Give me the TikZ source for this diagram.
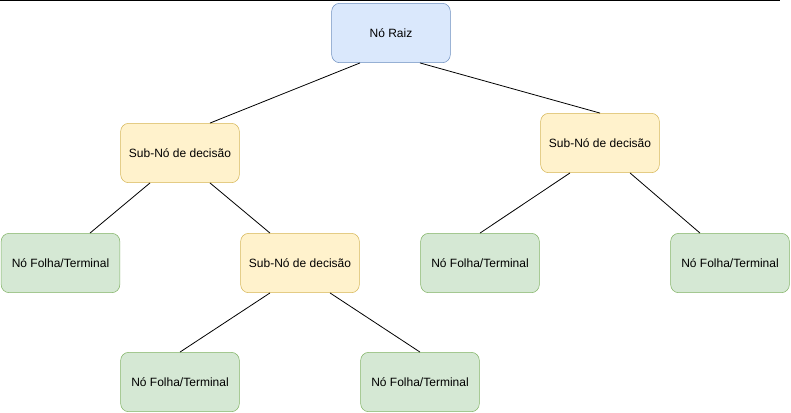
\documentclass[tikz,border=0pt]{standalone}
\usepackage{fontspec}
\setmainfont{Liberation Sans}
\usetikzlibrary{calc}
\definecolor{bfill}{HTML}{DAE8FC}\definecolor{bline}{HTML}{6C8EBF}
\definecolor{yfill}{HTML}{FFF2CC}\definecolor{yline}{HTML}{D6B656}
\definecolor{gfill}{HTML}{D5E8D4}\definecolor{gline}{HTML}{82B366}
\begin{document}
\begin{tikzpicture}[x=0.75pt,y=-0.75pt,
  box/.style={rounded corners=6pt,minimum width=89pt,minimum height=44.5pt,inner sep=0pt,font=\fontsize{9}{11}\selectfont},
  rootbox/.style={box,fill=bfill,draw=bline},
  subbox/.style={box,fill=yfill,draw=yline},
  leafbox/.style={box,fill=gfill,draw=gline},
  edge/.style={draw=black,line width=0.6pt}]
\useasboundingbox (0,0) rectangle (791,412);
\draw[line width=1pt] (0,0.5) -- (780,0.5);
\node[rootbox] (root) at (391,33) {Nó Raiz};
\node[subbox] (s1) at (180,153) {Sub-Nó de decisão};
\node[subbox] (s2) at (600,143) {Sub-Nó de decisão};
\node[subbox] (s3) at (300,263) {Sub-Nó de decisão};
\node[leafbox] (l1) at (60.5,263) {Nó Folha/Terminal};
\node[leafbox] (l2) at (480,263) {Nó Folha/Terminal};
\node[leafbox] (l3) at (730,263) {Nó Folha/Terminal};
\node[leafbox] (l4) at (180,382) {Nó Folha/Terminal};
\node[leafbox] (l5) at (420,382) {Nó Folha/Terminal};
\draw[edge] ($(root.south)+(-31,0)$) -- ($(s1.north)+(30,0)$);
\draw[edge] ($(root.south)+(29,0)$) -- (s2.north);
\draw[edge] ($(s1.south)+(-30,0)$) -- ($(l1.north)+(29.5,0)$);
\draw[edge] ($(s1.south)+(30,0)$) -- ($(s3.north)+(-30,0)$);
\draw[edge] ($(s2.south)+(-30,0)$) -- (l2.north);
\draw[edge] ($(s2.south)+(30,0)$) -- ($(l3.north)+(-30,0)$);
\draw[edge] ($(s3.south)+(-30,0)$) -- (l4.north);
\draw[edge] ($(s3.south)+(30,0)$) -- (l5.north);
\end{tikzpicture}
\end{document}
